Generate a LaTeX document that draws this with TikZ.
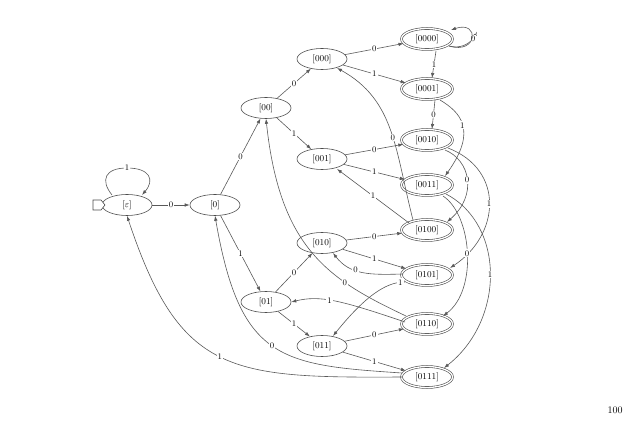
\documentclass[tikz,border=0pt]{standalone}
\usepackage{amssymb}
\usetikzlibrary{shapes.geometric,arrows.meta}
\begin{document}
\begin{tikzpicture}[x=1pt,y=-1pt,
  st/.style={ellipse,draw=black!70,line width=0.6pt,minimum width=50pt,minimum height=21pt,inner sep=0pt,font=\fontsize{9}{10}\selectfont},
  fin/.style={st,double,double distance=1.3pt,minimum width=51pt,minimum height=21pt},
  e/.style={draw=black!65,line width=0.6pt,-{Latex[length=5pt,width=3.5pt]}},
  l/.style={fill=white,inner sep=1pt,font=\fontsize{8.5}{9}\selectfont}]
\useasboundingbox (0,0) rectangle (640,435);
\node[st] (e) at (127,205) {[$\varepsilon$]};
\node[st] (n0) at (215,205) {[0]};
\node[st] (n00) at (266,108) {[00]};
\node[st] (n000) at (322,59) {[000]};
\node[st] (n001) at (322,159) {[001]};
\node[st] (n010) at (322,243) {[010]};
\node[st] (n01) at (266,302) {[01]};
\node[st] (n011) at (322,346) {[011]};
\node[fin] (a) at (427,39) {[0000]};
\node[fin] (b) at (427,89) {[0001]};
\node[fin] (c) at (427,140) {[0010]};
\node[fin] (d) at (427,185) {[0011]};
\node[fin] (f) at (427,230) {[0100]};
\node[fin] (g) at (427,275) {[0101]};
\node[fin] (h) at (427,324) {[0110]};
\node[fin] (i) at (427,377) {[0111]};
\node[font=\fontsize{10}{11}\selectfont] (pg) at (615,410) {100};
\coordinate (s) at (93,205);
\draw[draw=black!70,line width=0.6pt,fill=white] (s) ++(0,-5) -- ++(8,0) -- ++(4,5) -- ++(-4,5) -- ++(-8,0) -- cycle;
\draw[e] (112,195) .. controls (100,180) and (105,168) .. (127,168) node[l] {1} .. controls (150,168) and (155,180) .. (142,195);
\draw[e] (e) -- node[l]{0} (n0);
\draw[e] (n0) -- node[l]{0} (n00);
\draw[e] (n0) -- node[l]{1} (n01);
\draw[e] (n00) -- node[l]{0} (n000);
\draw[e] (n00) -- node[l]{1} (n001);
\draw[e] (n000) -- node[l]{0} (a);
\draw[e] (n000) -- node[l]{1} (b);
\draw[e] (449,46) .. controls (472,52) and (480,26) .. (473,39) node[l]{0};
\draw[e] (449,46) .. controls (478,55) and (480,20) .. (451,30);
\draw[e] (436,51) -- node[l]{1} (432,78);
\draw[e] (435,100) -- node[l]{0} (432,129);
\draw[e] (440,100) .. controls (460,112) and (478,130) .. node[l,pos=0.5]{1} (445,176);
\draw[e] (n001) -- node[l]{0} (c);
\draw[e] (n001) -- node[l]{1} (d);
\draw[e] (445,150) .. controls (470,160) and (478,195) .. node[l,pos=0.5]{0} (447,222);
\draw[e] (448,148) .. controls (505,170) and (500,235) .. node[l,pos=0.5]{1} (450,268);
\draw[e] (443,196) .. controls (472,215) and (478,290) .. node[l,pos=0.5]{0} (443,316);
\draw[e] (446,194) .. controls (505,225) and (505,320) .. node[l,pos=0.5]{1} (444,368);
\draw[e] (413,220) .. controls (395,150) and (395,100) .. node[l,pos=0.45]{0} (337,68);
\draw[e] (409,223) -- node[l]{1} (337,169);
\draw[e] (n010) -- node[l]{0} (f);
\draw[e] (n010) -- node[l]{1} (g);
\draw[e] (403,274) .. controls (370,275) and (350,275) .. node[l,pos=0.6]{0} (333,253);
\draw[e] (405,282) .. controls (390,282) and (370,290) .. node[l,pos=0.1]{1} (333,336);
\draw[e] (n01) -- node[l]{0} (n010);
\draw[e] (n01) -- node[l]{1} (n011);
\draw[e] (406,316) .. controls (330,280) and (280,250) .. node[l,pos=0.3]{0} (n00.south);
\draw[e] (405,322) .. controls (340,300) and (320,295) .. node[l,pos=0.55]{1} (n01.east);
\draw[e] (n011) -- node[l]{0} (h);
\draw[e] (n011) -- node[l]{1} (i);
\draw[e] (402,373) .. controls (280,365) and (240,360) .. node[l,pos=0.5]{0} (n0.south);
\draw[e] (402,377) .. controls (230,378) and (180,375) .. node[l,pos=0.5]{1} (e.south);
\end{tikzpicture}
\end{document}
